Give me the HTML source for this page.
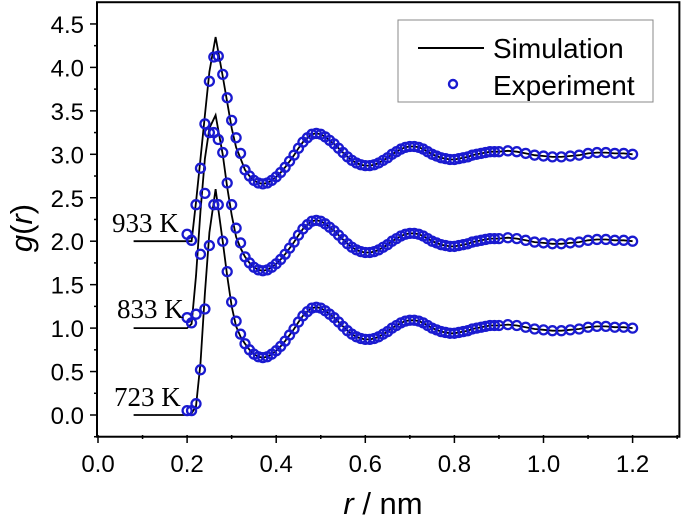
<!DOCTYPE html>
<html><head><meta charset="utf-8"><style>
html,body{margin:0;padding:0;background:#fff;}
svg{display:block;font-family:"Liberation Sans",sans-serif;}
</style></head><body>
<svg id="chart" width="685" height="525" viewBox="0 0 685 525">
<g id="axes"></g><g id="plot"></g>
<g>
<rect x="398" y="20" width="255" height="82" fill="#fff" stroke="#888" stroke-width="1"/>
<line x1="418" y1="48" x2="484" y2="48" stroke="#000" stroke-width="2"/>
<text x="493" y="58" font-size="28">Simulation</text>
<circle cx="453" cy="84" r="4" fill="none" stroke="#1a1ad0" stroke-width="2.4"/>
<text x="493" y="95" font-size="28">Experiment</text>
</g>
<text x="112" y="232" font-family="Liberation Serif,serif" font-size="27">933 K</text>
<text x="117" y="318" font-family="Liberation Serif,serif" font-size="27">833 K</text>
<text x="114" y="406" font-family="Liberation Serif,serif" font-size="27">723 K</text>
<text transform="translate(32,228) rotate(-90)" text-anchor="middle" font-size="31"><tspan font-style="italic">g</tspan>(<tspan font-style="italic">r</tspan>)</text>
<text x="383" y="514" text-anchor="middle" font-size="31"><tspan font-style="italic">r</tspan> / nm</text>
</svg>
<script>
const xTicks=[0.0,0.2,0.4,0.6,0.8,1.0,1.2];
const xTickLabels=["0.0","0.2","0.4","0.6","0.8","1.0","1.2"];
const yTicks=[0,0.5,1,1.5,2,2.5,3,3.5,4,4.5];
const yTickLabels=["0.0","0.5","1.0","1.5","2.0","2.5","3.0","3.5","4.0","4.5"];
const offsets=[0,1,2];
const expHeadR=[0.20,0.21,0.22,0.23,0.24,0.25,0.26,0.27,0.28,0.29,0.30,0.31,0.32];
const exp723Head=[0.05,0.05,0.13,0.52,1.22,1.95,2.42,2.42,2.0,1.65,1.3,1.08,0.93];
const exp833Head=[0.12,0.06,0.16,0.85,1.55,2.25,2.25,2.17,2.02,1.67,1.42,1.15,0.98];
const exp933Head=[0.08,0.01,0.42,0.84,1.35,1.84,2.12,2.13,1.92,1.65,1.39,1.19,1.01];
const tailR=[0.33,0.34,0.35,0.36,0.37,0.38,0.39,0.40,0.41,0.42,0.43,0.44,0.45,0.46,0.47,0.48,0.49,0.50,0.51,0.52,0.53,0.54,0.55,0.56,0.57,0.58,0.59,0.60,0.61,0.62,0.63,0.64,0.65,0.66,0.67,0.68,0.69,0.70,0.71,0.72,0.73,0.74,0.75,0.76,0.77,0.78,0.79,0.80,0.81,0.82,0.83,0.84,0.85,0.86,0.87,0.88,0.89,0.90,0.92,0.94,0.96,0.98,1.00,1.02,1.04,1.06,1.08,1.10,1.12,1.14,1.16,1.18,1.20];
const tailG=[0.82,0.75,0.70,0.67,0.66,0.67,0.70,0.74,0.79,0.85,0.92,0.99,1.07,1.14,1.19,1.23,1.24,1.23,1.20,1.16,1.12,1.07,1.02,0.97,0.93,0.90,0.88,0.87,0.87,0.88,0.90,0.93,0.96,1.00,1.03,1.06,1.08,1.09,1.09,1.08,1.06,1.03,1.00,0.98,0.96,0.95,0.94,0.94,0.95,0.96,0.97,0.99,1.00,1.01,1.02,1.03,1.03,1.03,1.04,1.03,1.01,0.99,0.98,0.97,0.97,0.98,0.99,1.01,1.02,1.02,1.01,1.01,1.00];
const simHeadR=[0.08,0.20,0.21,0.22,0.23,0.24,0.25,0.264,0.28,0.29,0.30,0.31,0.32];
const sim723Head=[0,0,0.02,0.1,0.6,1.4,2.1,2.6,2.0,1.6,1.25,1.02,0.9];
const sim833Head=[0,0,0.05,0.6,1.35,1.95,2.3,2.45,2.0,1.62,1.3,1.05,0.92];
const sim933Head=[0,0,0.0,0.45,0.95,1.45,1.95,2.35,1.9,1.6,1.3,1.08,0.95];

const NS="http://www.w3.org/2000/svg";
const X0=98,XS=445.5,Y0=415,YS=86.9;
const sx=v=>X0+v*XS, sy=v=>Y0-v*YS;
function mk(t,a,p){const e=document.createElementNS(NS,t);for(const k in a)e.setAttribute(k,a[k]);p.appendChild(e);return e;}
const axes=document.getElementById('axes'), plot=document.getElementById('plot');
let f=mk('rect',{x:sx(0)-1,y:sy(4.75),width:sx(1.305)-sx(0)+1,height:sy(-0.25)-sy(4.75),fill:'none',stroke:'#000','stroke-width':2},axes);


for(let i=0;i<xTicks.length;i++){
 const x=sx(xTicks[i]);
 let t=mk('line',{x1:x,y1:435,x2:x,y2:443,stroke:'#000','stroke-width':1.5},axes);
 
 
 let m=mk('line',{x1:sx(xTicks[i]+0.1),y1:435,x2:sx(xTicks[i]+0.1),y2:439,stroke:'#000','stroke-width':1.5},axes);
 
 
 let l=mk('text',{x:x,y:472,'text-anchor':'middle','font-size':24},axes);l.textContent=xTickLabels[i];
 
 
}
for(let i=0;i<yTicks.length;i++){
 const y=sy(yTicks[i]);
 let t=mk('line',{x1:sx(0)-8,y1:y,x2:sx(0),y2:y,stroke:'#000','stroke-width':1.5},axes);
 
 
 let m=mk('line',{x1:sx(0)-4,y1:sy(yTicks[i]-0.25),x2:sx(0),y2:sy(yTicks[i]-0.25),stroke:'#000','stroke-width':1.5},axes);
 
 
 let l=mk('text',{x:sx(0)-14,y:y+9,'text-anchor':'end','font-size':24},axes);l.textContent=yTickLabels[i];
 
 
}
const names=['723k','833k','933k'];
const simHeads=[sim723Head,sim833Head,sim933Head];
const expHeads=[exp723Head,exp833Head,exp933Head];
for(let s=0;s<3;s++){
 const off=offsets[s];
 const rs=simHeadR.concat(tailR), gs=simHeads[s].concat(tailG);
 const d=rs.map((r,i)=>(i?'L':'M')+sx(r).toFixed(1)+','+sy(gs[i]+off).toFixed(1)).join('');
 let p=mk('path',{d:d,fill:'none',stroke:'#000','stroke-width':1.8},plot);
 
 
}
for(let s=0;s<3;s++){
 const off=offsets[s];
 const rs=expHeadR.concat(tailR), gs=expHeads[s].concat(tailG);
 for(let i=0;i<rs.length;i++){
  let c=mk('circle',{cx:sx(rs[i]),cy:sy(gs[i]+off),r:4.5,fill:'none',stroke:'#1a1ad0','stroke-width':2.3},plot);
  
  
 }
}
</script>
</body></html>
